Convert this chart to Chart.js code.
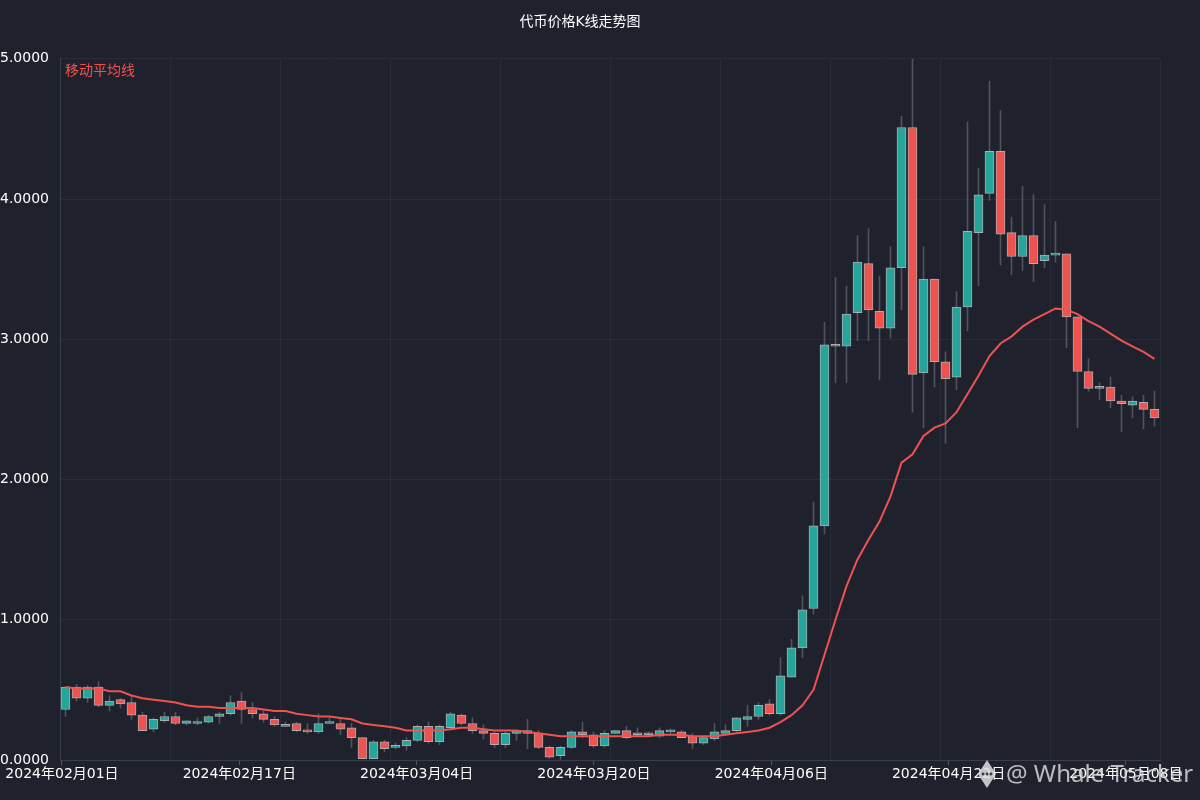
<!DOCTYPE html>
<html>
<head>
<meta charset="utf-8">
<script src="https://cdn.jsdelivr.net/npm/chart.js@4.4.1/dist/chart.umd.min.js"></script>
<style>
html, body { margin: 0; padding: 0; background: #1f222d; }
#wrap { width: 1200px; height: 800px; }
</style>
</head>
<body>
<div id="wrap"><canvas id="canvas" width="1200" height="800"></canvas></div>
<script>
var chartTitle = '代币价格K线走势图';
var maLabel = '移动平均线';
var dateLabels = ['2024年02月01日', '2024年02月17日', '2024年03月04日', '2024年03月20日',
                  '2024年04月06日', '2024年04月22日', '2024年05月08日'];
var yTicks = [0, 1, 2, 3, 4, 5];

var opens = [0.36,0.52,0.44,0.52,0.39,0.43,0.41,0.32,0.22,0.28,
  0.31,0.26,0.26,0.27,0.31,0.33,0.42,0.36,0.33,0.29,
  0.25,0.26,0.21,0.20,0.26,0.26,0.23,0.16,0.01,0.13,
  0.09,0.10,0.14,0.24,0.13,0.23,0.32,0.26,0.21,0.19,
  0.11,0.19,0.21,0.19,0.09,0.03,0.09,0.20,0.18,0.10,
  0.19,0.21,0.18,0.18,0.17,0.20,0.20,0.17,0.12,0.15,
  0.19,0.21,0.29,0.31,0.40,0.33,0.59,0.80,1.08,1.67,
  2.96,2.95,3.19,3.54,3.20,3.08,3.51,4.51,2.76,3.43,
  2.84,2.73,3.23,3.76,4.04,4.34,3.76,3.59,3.74,3.56,
  3.60,3.61,3.16,2.77,2.66,2.66,2.56,2.53,2.55,2.50];
var highs = [0.52,0.54,0.53,0.56,0.46,0.44,0.46,0.34,0.30,0.34,
  0.34,0.28,0.30,0.32,0.34,0.46,0.48,0.41,0.35,0.31,
  0.27,0.27,0.26,0.33,0.30,0.29,0.26,0.16,0.14,0.14,
  0.12,0.16,0.25,0.27,0.25,0.34,0.33,0.30,0.25,0.20,
  0.20,0.21,0.29,0.21,0.10,0.10,0.21,0.27,0.20,0.21,
  0.21,0.24,0.23,0.20,0.23,0.22,0.21,0.19,0.17,0.26,
  0.25,0.30,0.39,0.41,0.43,0.73,0.86,1.17,1.84,3.12,
  3.44,3.38,3.74,3.79,3.45,3.66,4.59,5.00,3.66,3.43,
  2.91,3.34,4.55,4.22,4.84,4.63,3.87,4.09,4.03,3.96,
  3.84,3.61,3.16,2.86,2.69,2.73,2.60,2.59,2.60,2.63];
var lows = [0.31,0.42,0.41,0.38,0.35,0.37,0.29,0.21,0.20,0.27,
  0.25,0.25,0.25,0.26,0.26,0.32,0.26,0.30,0.27,0.24,
  0.24,0.20,0.19,0.19,0.26,0.18,0.09,0.01,0.01,0.06,
  0.08,0.07,0.13,0.12,0.11,0.22,0.25,0.19,0.15,0.09,
  0.09,0.14,0.08,0.08,0.01,0.00,0.08,0.16,0.09,0.09,
  0.19,0.15,0.17,0.17,0.16,0.19,0.16,0.08,0.11,0.14,
  0.19,0.20,0.24,0.29,0.32,0.32,0.59,0.73,1.04,1.61,
  2.69,2.69,2.99,2.99,2.71,3.01,3.21,2.48,2.37,2.66,
  2.26,2.64,3.06,3.38,3.99,3.53,3.46,3.49,3.41,3.51,
  3.55,2.94,2.37,2.63,2.57,2.51,2.34,2.44,2.36,2.38];
var closes = [0.52,0.44,0.52,0.39,0.42,0.40,0.32,0.21,0.29,0.31,
  0.26,0.28,0.27,0.31,0.33,0.41,0.36,0.33,0.29,0.25,
  0.24,0.21,0.20,0.26,0.27,0.22,0.16,0.01,0.13,0.08,
  0.10,0.14,0.24,0.13,0.24,0.33,0.26,0.21,0.19,0.11,
  0.19,0.21,0.19,0.09,0.02,0.09,0.20,0.18,0.10,0.19,
  0.21,0.16,0.19,0.19,0.21,0.21,0.16,0.12,0.16,0.20,
  0.21,0.30,0.31,0.39,0.33,0.60,0.80,1.07,1.67,2.96,
  2.95,3.18,3.55,3.21,3.08,3.51,4.51,2.75,3.43,2.84,
  2.72,3.23,3.77,4.03,4.34,3.75,3.59,3.74,3.54,3.60,
  3.61,3.16,2.77,2.65,2.65,2.56,2.54,2.56,2.50,2.44];
var maValues = [0.52,0.51,0.51,0.51,0.49,0.49,0.46,0.44,0.43,0.42,
  0.41,0.39,0.38,0.38,0.37,0.37,0.37,0.37,0.36,0.35,
  0.35,0.33,0.32,0.31,0.31,0.30,0.29,0.26,0.25,0.24,
  0.23,0.21,0.21,0.21,0.21,0.22,0.23,0.23,0.22,0.21,
  0.21,0.21,0.20,0.19,0.18,0.17,0.17,0.17,0.17,0.17,
  0.17,0.17,0.17,0.17,0.18,0.18,0.18,0.17,0.17,0.17,
  0.18,0.19,0.20,0.21,0.23,0.27,0.32,0.39,0.50,0.75,
  1.00,1.24,1.43,1.57,1.70,1.88,2.12,2.18,2.31,2.37,
  2.40,2.48,2.61,2.74,2.88,2.97,3.02,3.09,3.14,3.18,
  3.22,3.21,3.18,3.13,3.09,3.04,2.99,2.95,2.91,2.86];

var upColor = '#26a69a';
var downColor = '#ef5350';
var gridColor = 'rgba(70,76,92,0.28)';
var bgColor = '#1f222d';

var bodies = [], wicks = [], maLine = [], bodyColors = [];
for (var i = 0; i < closes.length; i++) {
    bodies.push({ x: i, y: [opens[i], closes[i]] });
    wicks.push({ x: i, y: [lows[i], highs[i]] });
    maLine.push({ x: i, y: maValues[i] });
    bodyColors.push(closes[i] >= opens[i] ? upColor : downColor);
}

// background + in-plot legend + watermark
var decor = {
    id: 'decor',
    beforeDraw: function(chart) {
        var ctx = chart.ctx;
        ctx.save();
        ctx.fillStyle = bgColor;
        ctx.fillRect(0, 0, chart.width, chart.height);
        ctx.restore();
    },
    afterDraw: function(chart) {
        var ctx = chart.ctx, area = chart.chartArea;
        ctx.save();
        ctx.fillStyle = downColor;
        ctx.font = '14px "DejaVu Sans", "Noto Sans CJK SC", sans-serif';
        ctx.textBaseline = 'middle';
        ctx.fillText(maLabel, area.left + 5, area.top + 13);

        // watermark
        var cx = 987, cy = 774;
        ctx.fillStyle = 'rgba(225,225,225,0.85)';
        ctx.beginPath();
        ctx.moveTo(cx, cy - 14);
        ctx.lineTo(cx + 9, cy);
        ctx.lineTo(cx, cy + 14);
        ctx.lineTo(cx - 9, cy);
        ctx.closePath();
        ctx.fill();
        ctx.fillStyle = 'rgba(40,44,56,0.9)';
        [-4, 0, 4].forEach(function(d) {
            ctx.beginPath();
            ctx.arc(cx + d, cy, 1.4, 0, Math.PI * 2);
            ctx.fill();
        });
        ctx.fillStyle = 'rgba(215,215,215,0.85)';
        ctx.font = '24px "Noto Sans", "Open Sans", sans-serif';
        ctx.fillText('@ Whale Tracker', 1006, cy + 1);
        ctx.restore();
    }
};

var ctx = document.getElementById('canvas').getContext('2d');
var myChart = new Chart(ctx, {
    type: 'bar',
    data: {
        datasets: [{
            type: 'line',
            label: maLabel,
            data: maLine,
            borderColor: downColor,
            borderWidth: 2,
            pointRadius: 0,
            tension: 0,
            order: 0
        }, {
            label: 'body',
            data: bodies,
            backgroundColor: bodyColors,
            borderColor: 'rgba(205,205,210,0.8)',
            borderWidth: 1,
            borderSkipped: false,
            barThickness: 9,
            minBarLength: 2,
            grouped: false,
            order: 1
        }, {
            label: 'wick',
            data: wicks,
            backgroundColor: 'rgba(120,122,132,0.55)',
            borderWidth: 0,
            barThickness: 1,
            grouped: false,
            order: 2
        }]
    },
    options: {
        responsive: false,
        animation: false,
        devicePixelRatio: 1,
        layout: { padding: { left: 0, right: 40, top: 0, bottom: 0 } },
        plugins: {
            legend: { display: false },
            tooltip: { enabled: false },
            title: {
                display: true,
                text: chartTitle,
                color: '#ffffff',
                font: { size: 14, weight: 'normal', family: '"DejaVu Sans", "Noto Sans CJK SC", sans-serif' },
                padding: { top: 14, bottom: 28 }
            }
        },
        scales: {
            x: {
                type: 'linear',
                min: -0.5,
                max: 99.5,
                offset: false,
                z: 1,
                afterBuildTicks: function(scale) {
                    var t = [];
                    for (var k = 0; k <= 10; k++) t.push({ value: -0.5 + 10 * k, isGrid: true });
                    dateLabels.forEach(function(l, k) {
                        t.push({ value: -0.32 + 16.12 * k, isGrid: false, text: l });
                    });
                    t.sort(function(a, b) { return a.value - b.value; });
                    scale.ticks = t;
                },
                afterFit: function(scale) { scale.height = 40; },
                grid: {
                    offset: false,
                    color: function(c) { return c.tick && c.tick.isGrid ? gridColor : 'rgba(0,0,0,0)'; },
                    tickColor: function(c) { return c.tick && !c.tick.isGrid ? 'rgba(90,95,110,0.8)' : 'rgba(0,0,0,0)'; },
                    tickLength: 5
                },
                border: { color: 'rgba(60,65,82,0.9)' },
                ticks: {
                    autoSkip: false,
                    maxRotation: 0,
                    padding: 1,
                    color: '#ffffff',
                    font: { size: 14, family: '"DejaVu Sans", "Noto Sans CJK SC", sans-serif' },
                    callback: function(v, idx, ticks) { return ticks[idx].isGrid ? '' : ticks[idx].text; }
                }
            },
            y: {
                min: 0,
                max: 5,
                z: 1,
                afterBuildTicks: function(scale) {
                    scale.ticks = yTicks.map(function(v) { return { value: v }; });
                },
                afterFit: function(scale) { scale.width = 60; },
                grid: { color: gridColor, drawTicks: false, tickLength: 0 },
                border: { color: 'rgba(60,65,82,0.9)' },
                ticks: {
                    crossAlign: 'far',
                    padding: 0,
                    color: '#ffffff',
                    font: { size: 14, family: '"DejaVu Sans", "Noto Sans CJK SC", sans-serif' },
                    callback: function(v) { return v.toFixed(4); }
                }
            }
        }
    },
    plugins: [decor]
});
</script>
</body>
</html>
